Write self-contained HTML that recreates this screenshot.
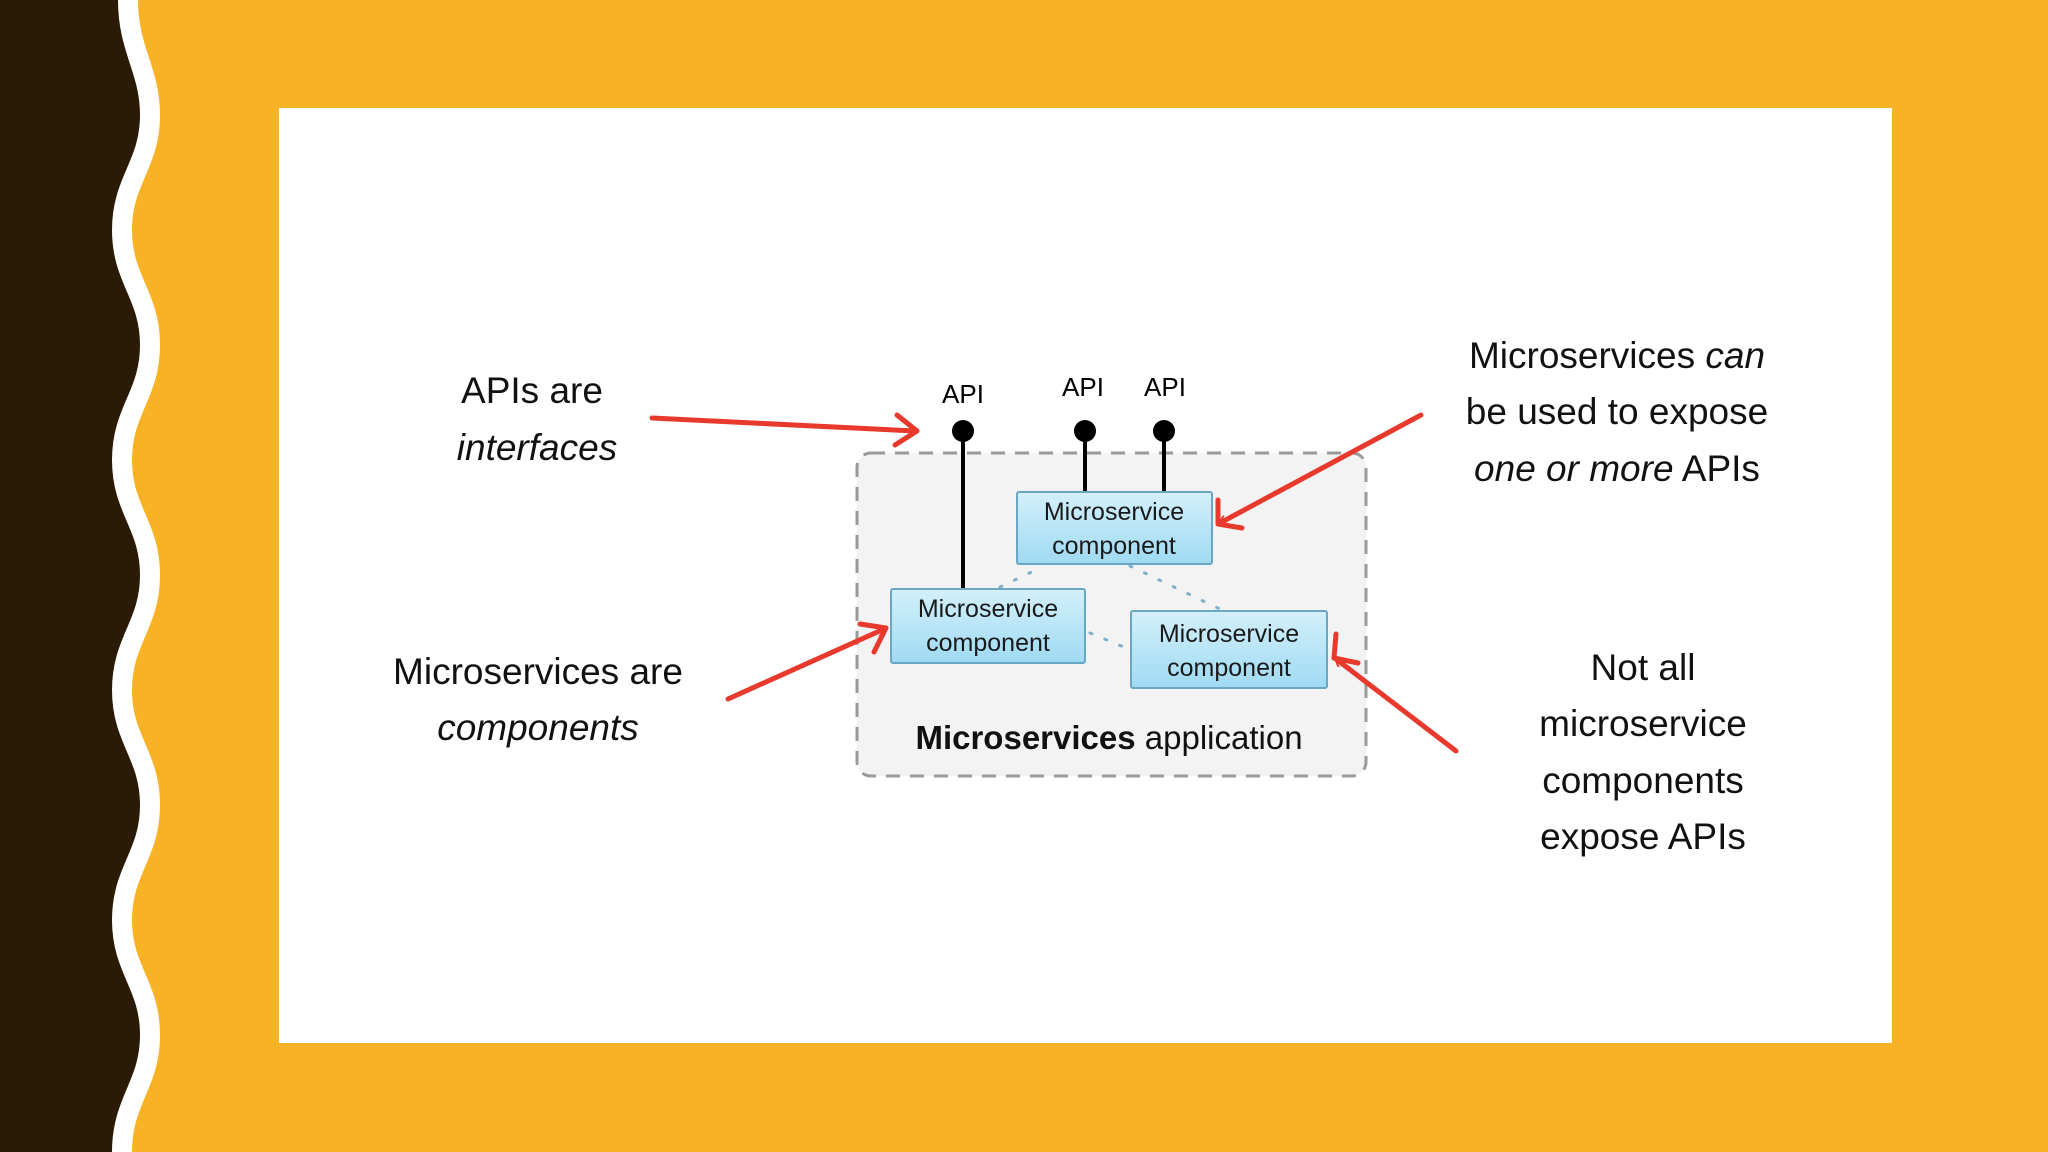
<!DOCTYPE html>
<html><head><meta charset="utf-8"><style>
html,body{margin:0;padding:0}
body{width:2048px;height:1152px;overflow:hidden;background:#f8b225;position:relative;font-family:"Liberation Sans",sans-serif}
svg{position:absolute;left:0;top:0}
</style></head><body>
<svg width="2048" height="1152" viewBox="0 0 2048 1152">
<defs>
<linearGradient id="g" x1="0" y1="0" x2="0" y2="1"><stop offset="0" stop-color="#d4f0fb"/><stop offset="1" stop-color="#9fdaf2"/></linearGradient>
<marker id="ah" markerWidth="10" markerHeight="10" refX="8" refY="5" orient="auto" markerUnits="userSpaceOnUse" viewBox="0 0 10 10"><path d="M1,0 L9,5 L1,10" fill="none" stroke="#e8392d" stroke-width="2"/></marker>
</defs>
<path d="M0,0 L128,0 C128,50 150,70 150,115 C150,165 122,180 122,230 C122,280 150,295 150,345 C150,395 122,410 122,460 C122,510 150,525 150,575 C150,625 122,640 122,690 C122,740 150,755 150,805 C150,855 122,870 122,920 C122,970 150,985 150,1035 C150,1085 122,1100 122,1152 L0,1152 Z" fill="#2b1a05"/>
<path d="M128,0 C128,50 150,70 150,115 C150,165 122,180 122,230 C122,280 150,295 150,345 C150,395 122,410 122,460 C122,510 150,525 150,575 C150,625 122,640 122,690 C122,740 150,755 150,805 C150,855 122,870 122,920 C122,970 150,985 150,1035 C150,1085 122,1100 122,1152" fill="none" stroke="#fff" stroke-width="20"/>
<rect x="279" y="108" width="1613" height="935" fill="#fff"/>
<rect x="857" y="453" width="509" height="323" rx="14" fill="#f3f3f3" stroke="#999" stroke-width="3" stroke-dasharray="14,10"/>
<g stroke="#7fb0c8" stroke-width="3" stroke-dasharray="2,14" stroke-linecap="round" fill="none">
<path d="M1000,587 L1040,568"/><path d="M1130,566 L1222,610"/><path d="M1090,633 L1131,650"/>
</g>
<g stroke="#000" stroke-width="4"><line x1="963" y1="431" x2="963" y2="589"/><line x1="1085" y1="431" x2="1085" y2="492"/><line x1="1164" y1="431" x2="1164" y2="492"/></g>
<g fill="#000"><circle cx="963" cy="431" r="11"/><circle cx="1085" cy="431" r="11"/><circle cx="1164" cy="431" r="11"/></g>
<g font-size="26" text-anchor="middle" fill="#000"><text x="963" y="403">API</text><text x="1083" y="396">API</text><text x="1165" y="396">API</text></g>
<g stroke="#6aa7c4" stroke-width="2" fill="url(#g)">
<rect x="1017" y="492" width="195" height="72" rx="2"/><rect x="891" y="589" width="194" height="74" rx="2"/><rect x="1131" y="611" width="196" height="77" rx="2"/>
</g>
<g font-size="25" text-anchor="middle" fill="#1a1a1a">
<text x="1114" y="520">Microservice</text><text x="1114" y="554">component</text>
<text x="988" y="617">Microservice</text><text x="988" y="651">component</text>
<text x="1229" y="642">Microservice</text><text x="1229" y="676">component</text>
</g>
<text x="1109" y="749" font-size="33" text-anchor="middle" fill="#111"><tspan font-weight="bold">Microservices</tspan> application</text>
<g stroke="#e8392d" stroke-width="5" fill="none" stroke-linecap="round">
<line x1="652" y1="418" x2="915" y2="431" marker-end="url(#ah)"/>
<line x1="1421" y1="415" x2="1220" y2="523" marker-end="url(#ah)"/>
<line x1="728" y1="699" x2="884" y2="629" marker-end="url(#ah)"/>
<line x1="1456" y1="751" x2="1336" y2="659" marker-end="url(#ah)"/>
</g>
<g stroke="#e8392d" stroke-width="5" fill="none" stroke-linecap="round" stroke-linejoin="round">
<path d="M897,415 L917,431 L895,445"/>
<path d="M1218,500 L1218,524 L1242,528"/>
<path d="M860,624 L886,628 L874,652"/>
<path d="M1336,634 L1334,658 L1358,663"/>
</g>
<g font-size="37" text-anchor="middle" fill="#111">
<text x="532" y="403">APIs are</text><text x="537" y="460" font-style="italic">interfaces</text>
<text x="538" y="684">Microservices are</text><text x="538" y="740" font-style="italic">components</text>
<text x="1617" y="368">Microservices <tspan font-style="italic">can</tspan></text>
<text x="1617" y="424">be used to expose</text>
<text x="1617" y="481"><tspan font-style="italic">one or more</tspan> APIs</text>
<text x="1643" y="680">Not all</text><text x="1643" y="736">microservice</text><text x="1643" y="793">components</text><text x="1643" y="849">expose APIs</text>
</g>
</svg>
</body></html>
